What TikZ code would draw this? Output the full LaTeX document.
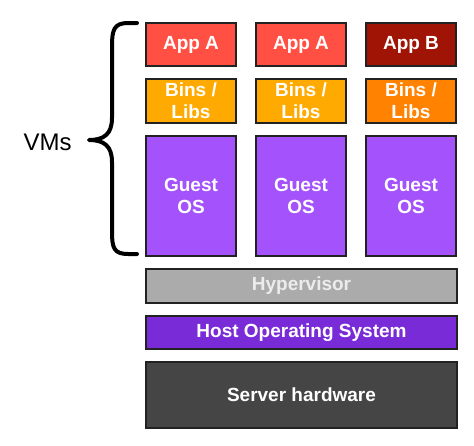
\documentclass[tikz,border=0pt]{standalone}
\usepackage{fontspec}
\setmainfont{Liberation Sans}
\definecolor{appA}{HTML}{FF5043}
\definecolor{appB}{HTML}{A01406}
\definecolor{binsA}{HTML}{FFAA00}
\definecolor{binsB}{HTML}{FF8200}
\definecolor{guest}{HTML}{A452FB}
\definecolor{hyper}{HTML}{ABABAB}
\definecolor{hypertext}{HTML}{ECECEC}
\definecolor{hostos}{HTML}{7A2BD8}
\definecolor{server}{HTML}{454545}
\definecolor{edge}{HTML}{222222}
\begin{document}
\begin{tikzpicture}[x=1pt,y=-1pt,
  box/.style={draw=edge, line width=1.3pt, rectangle, inner sep=0pt,
    text=white, font=\fontsize{19}{22}\selectfont\bfseries, align=center},
  colbox/.style={box, minimum width=90pt},
  wide/.style={box, minimum width=311pt}]
\useasboundingbox (0,0) rectangle (474,445);
% columns
\foreach \i/\x/\ac/\at/\bc in {1/191/appA/App A/binsA, 2/301/appA/App A/binsA, 3/411/appB/App B/binsB}{
  \node[colbox, fill=\ac, minimum height=43pt] (app\i) at (\x,44.5) {\at};
  \node[colbox, fill=\bc, minimum height=44pt] (bins\i) at (\x,101) {Bins /\\Libs};
  \node[colbox, fill=guest, minimum height=120pt] (guest\i) at (\x,196) {Guest\\OS};
}
\node[wide, fill=hyper, text=hypertext, minimum height=34pt] (hyp) at (301.5,286) {Hypervisor};
\node[wide, fill=hostos, minimum height=33pt] (host) at (301.5,332.5) {Host Operating System};
\node[wide, fill=server, minimum height=66pt] (hw) at (301.5,395) {Server hardware};
% brace
\draw[line width=4pt, line cap=round, line join=round]
  (137,23) -- (128,23) .. controls (114,23) and (112,30) .. (112,46)
  -- (112,118) .. controls (112,134) and (104,140) .. (89,140)
  .. controls (104,140) and (112,146) .. (112,162)
  -- (112,232) .. controls (112,248) and (114,254) .. (128,254) -- (137,254);
\node[font=\fontsize{24}{28}\selectfont, inner sep=0pt] (vms) at (47.5,142) {VMs};
\end{tikzpicture}
\end{document}
